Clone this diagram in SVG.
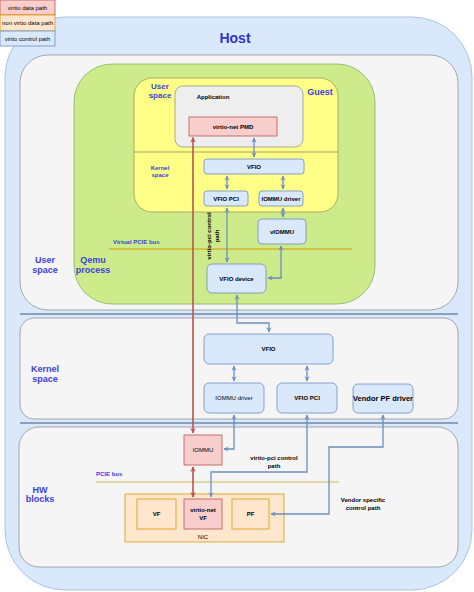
<svg xmlns="http://www.w3.org/2000/svg" width="474" height="592" viewBox="0 0 474 592">
<defs>
<style>
text{font-family:"Liberation Sans",Arial,sans-serif;}
.b{font-weight:bold;}
.lbl{fill:#4040dd;font-weight:bold;}
.t6{font-size:6px;fill:#000;}
.blue{fill:#dae8fc;stroke:#6c8ebf;stroke-width:0.8;}
.pink{fill:#f8cecc;stroke:#b85450;stroke-width:0.8;}
.orng{fill:#ffe6cc;stroke:#d79b00;stroke-width:0.8;}
.sec{fill:#f5f5f5;stroke:#888;stroke-width:0.7;}
.c{fill:none;stroke:#6c8ebf;stroke-width:1.3;marker-start:url(#ab);marker-end:url(#ab);}
.r{fill:none;stroke:#b85450;stroke-width:1.6;marker-start:url(#ar);marker-end:url(#ar);}
</style>
<marker id="ab" viewBox="0 0 10 10" refX="9" refY="5" markerWidth="4" markerHeight="4" orient="auto-start-reverse" markerUnits="strokeWidth"><path d="M0,0 L10,5 L0,10 L3,5 z" fill="#6c8ebf"/></marker>
<marker id="ar" viewBox="0 0 10 10" refX="9" refY="5" markerWidth="3.5" markerHeight="3.5" orient="auto-start-reverse" markerUnits="strokeWidth"><path d="M0,0 L10,5 L0,10 L3,5 z" fill="#b85450"/></marker>
</defs>
<rect width="474" height="592" fill="#fff"/>

<g id="host">
<rect x="5" y="17" width="467" height="573" rx="60" fill="#dae8fc" stroke="#a9c4eb" stroke-width="1"/>
<text x="235" y="43" text-anchor="middle" font-size="14" class="b" fill="#3333cc">Host</text>
</g>

<g id="legend">
<rect x="0" y="0" width="55" height="15" class="pink"/>
<text x="27.5" y="10" text-anchor="middle" class="t6">virtio data path</text>
<rect x="0" y="15" width="55" height="16" class="orng"/>
<text x="27.5" y="25" text-anchor="middle" class="t6">non virtio data path</text>
<rect x="0" y="31" width="55" height="15" class="blue"/>
<text x="27.5" y="41" text-anchor="middle" class="t6">virtio control path</text>
</g>

<g id="user-space">
<rect x="20" y="55" width="438" height="255" rx="28" class="sec"/>
<text x="45" y="263" text-anchor="middle" font-size="9" class="lbl">User</text>
<text x="45" y="273" text-anchor="middle" font-size="9" class="lbl">space</text>
</g>
<line x1="20" y1="314" x2="458" y2="314" stroke="#6f8aa6" stroke-width="1.6"/>
<g id="kernel-space">
<rect x="20" y="318" width="438" height="101" rx="14" class="sec"/>
<text x="45" y="372" text-anchor="middle" font-size="9" class="lbl">Kernel</text>
<text x="45" y="382" text-anchor="middle" font-size="9" class="lbl">space</text>
</g>
<line x1="20" y1="423" x2="458" y2="423" stroke="#6f8aa6" stroke-width="1.6"/>
<g id="hw-blocks">
<rect x="19" y="427" width="439" height="140" rx="20" class="sec"/>
<text x="40" y="493" text-anchor="middle" font-size="9" class="lbl">HW</text>
<text x="40" y="502" text-anchor="middle" font-size="9" class="lbl">blocks</text>
</g>

<g id="qemu">
<rect x="74" y="64" width="301" height="240" rx="38" fill="#cdeb8b" stroke="#82b366" stroke-width="0.8"/>
<text x="93" y="263" text-anchor="middle" font-size="9" class="lbl">Qemu</text>
<text x="93" y="273" text-anchor="middle" font-size="9" class="lbl">process</text>
</g>

<g id="guest">
<rect x="134" y="78" width="204" height="134" rx="18" fill="#ffff88" stroke="#9a9a5a" stroke-width="0.8"/>
<line x1="134" y1="152" x2="338" y2="152" stroke="#8a8a50" stroke-width="0.8"/>
<text x="320" y="95" text-anchor="middle" font-size="9" class="lbl">Guest</text>
<text x="160" y="89" text-anchor="middle" font-size="8" class="lbl">User</text>
<text x="160" y="98" text-anchor="middle" font-size="8" class="lbl">space</text>
<text x="160" y="170" text-anchor="middle" font-size="6" class="lbl">Kernel</text>
<text x="160" y="177" text-anchor="middle" font-size="6" class="lbl">space</text>
</g>

<g id="application">
<rect x="175" y="86" width="128" height="61" rx="8" fill="#eeeeee" stroke="#888" stroke-width="0.7"/>
<text x="213" y="99" text-anchor="middle" class="t6 b">Application</text>
</g>
<g id="virtio-net-pmd">
<rect x="189" y="117" width="88" height="19" class="pink"/>
<text x="233" y="128.5" text-anchor="middle" class="t6 b">virtio-net PMD</text>
</g>
<g id="guest-vfio">
<rect x="204" y="159" width="100" height="15" rx="3" class="blue"/>
<text x="254" y="168.5" text-anchor="middle" class="t6 b">VFIO</text>
</g>
<g id="guest-vfio-pci">
<rect x="204" y="191" width="44" height="15" rx="3" class="blue"/>
<text x="226" y="200.5" text-anchor="middle" class="t6 b">VFIO PCI</text>
</g>
<g id="guest-iommu-driver">
<rect x="259" y="191" width="44" height="15" rx="3" class="blue"/>
<text x="281" y="200.5" text-anchor="middle" class="t6 b">IOMMU driver</text>
</g>
<g id="viommu">
<rect x="258" y="219" width="48" height="25" rx="4" class="blue"/>
<text x="282" y="233.5" text-anchor="middle" class="t6 b">vIOMMU</text>
</g>
<g id="virtual-pcie-bus">
<line x1="109" y1="249" x2="352" y2="249" stroke="#d79b00" stroke-width="1"/>
<text x="113" y="244" font-size="6" class="lbl">Virtual PCIE bus</text>
</g>
<g id="vfio-device">
<rect x="207" y="264" width="59" height="29" rx="5" class="blue"/>
<text x="236.5" y="280.5" text-anchor="middle" class="t6 b">VFIO device</text>
</g>

<g id="kernel-vfio">
<rect x="204" y="334" width="129" height="30" rx="5" class="blue"/>
<text x="268.5" y="351" text-anchor="middle" class="t6 b">VFIO</text>
</g>
<g id="kernel-iommu-driver">
<rect x="204" y="383" width="60" height="30" rx="5" class="blue"/>
<text x="234" y="400" text-anchor="middle" class="t6">IOMMU driver</text>
</g>
<g id="kernel-vfio-pci">
<rect x="277" y="383" width="60" height="30" rx="5" class="blue"/>
<text x="307" y="400" text-anchor="middle" class="t6 b">VFIO PCI</text>
</g>
<g id="vendor-pf-driver">
<rect x="353" y="384" width="60" height="29" rx="5" class="blue"/>
<text x="383" y="401" text-anchor="middle" font-size="7.5" class="b">Vendor PF driver</text>
</g>

<g id="iommu">
<rect x="184" y="435" width="38" height="30" class="pink"/>
<text x="203" y="452" text-anchor="middle" class="t6">IOMMU</text>
</g>
<g id="pcie-bus">
<line x1="96" y1="482" x2="339" y2="482" stroke="#d6b656" stroke-width="1"/>
<text x="96" y="476" font-size="6" class="lbl">PCIE bus</text>
</g>
<g id="nic">
<rect x="125" y="494" width="159" height="48" class="orng"/>
<text x="203" y="539" text-anchor="middle" class="t6">NIC</text>
</g>
<g id="vf">
<rect x="137" y="499" width="39" height="30" class="orng"/>
<text x="156.5" y="516" text-anchor="middle" class="t6 b">VF</text>
</g>
<g id="virtio-net-vf">
<rect x="184" y="499" width="38" height="30" class="pink"/>
<text x="203" y="512" text-anchor="middle" class="t6 b">virtio-net</text>
<text x="203" y="520" text-anchor="middle" class="t6 b">VF</text>
</g>
<g id="pf">
<rect x="232" y="499" width="37" height="30" class="orng"/>
<text x="250.5" y="516" text-anchor="middle" class="t6 b">PF</text>
</g>

<g id="connectors">
<path class="r" d="M193,433 L193,137.5"/>
<path class="r" d="M193,467 L193,497"/>
<path class="c" d="M254,138 L254,157"/>
<path class="c" d="M227,176 L227,189"/>
<path class="c" d="M283,176 L283,189"/>
<path class="c" d="M283,208 L283,217"/>
<path class="c" d="M227,208 L227,262"/>
<path class="c" d="M281,246 L281,278 L268,278"/>
<path class="c" d="M237,295 L237,323 L269,323 L269,332"/>
<path class="c" d="M234,366 L234,381"/>
<path class="c" d="M307,366 L307,381"/>
<path class="c" d="M234,415 L234,449 L224,449"/>
<path class="c" d="M307,415 L307,472 L211,472 L211,497"/>
<path class="c" d="M383,415 L383,447 L329,447 L329,514 L271,514"/>
<text transform="translate(211,236) rotate(-90)" text-anchor="middle" class="t6 b">virtio-pci control</text>
<text transform="translate(219,236) rotate(-90)" text-anchor="middle" class="t6 b">path</text>
<text x="274" y="460" text-anchor="middle" class="t6 b">virtio-pci control</text>
<text x="274" y="468" text-anchor="middle" class="t6 b">path</text>
<text x="363" y="502" text-anchor="middle" class="t6 b">Vendor specific</text>
<text x="363" y="510" text-anchor="middle" class="t6 b">control path</text>
</g>
</svg>
